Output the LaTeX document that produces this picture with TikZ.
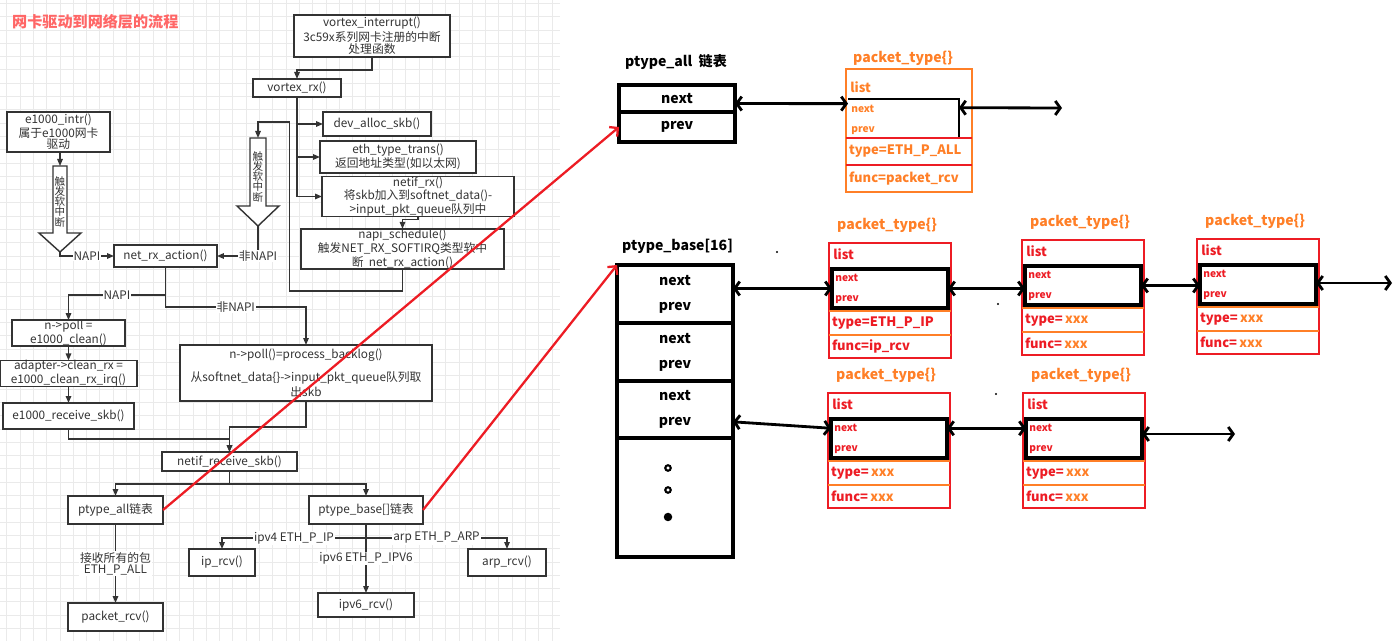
\documentclass[tikz,border=0pt]{standalone}
\usepackage{fontspec}
\setmainfont{Noto Sans CJK SC}
\usetikzlibrary{arrows.meta,positioning}
\definecolor{lineg}{HTML}{333333}
\definecolor{gridg}{HTML}{EAEAEA}
\definecolor{pred}{HTML}{ED1C24}
\definecolor{porange}{HTML}{FF7F27}
\definecolor{ttl}{HTML}{FF6666}

\begin{document}
\begin{tikzpicture}[x=0.02cm,y=-0.02cm,
  fbox/.style={draw=lineg,line width=0.8pt,fill=white,inner sep=0,outer sep=0,align=center,text=lineg,font=\fontsize{6.7}{6.2}\selectfont},
  flow/.style={draw=lineg,line width=0.8pt,-{Triangle[length=0.14cm,width=0.11cm]}},
  lbl/.style={fill=white,inner sep=0.6pt,align=center,text=lineg,font=\fontsize{6.7}{6.2}\selectfont},
  vtxt/.style={inner sep=0,align=center,text=lineg,font=\fontsize{6}{5.7}\selectfont},
  cell/.style={draw,line width=2.3pt,minimum width=2.32cm,inner sep=0,outer sep=0,align=center,font=\bfseries\fontsize{8}{14.2}\selectfont},
  btitle/.style={anchor=west,font=\bfseries\fontsize{8}{10}\selectfont},
  ptlbl/.style={anchor=west,text=porange,font=\bfseries\fontsize{8}{10}\selectfont},
  pbox/.style={draw=pred,line width=1.6pt,minimum width=2.44cm,minimum height=2.3cm,inner sep=0,outer sep=0},
  inbox/.style={draw,line width=2.2pt,minimum width=2.32cm,minimum height=0.78cm,inner sep=0,outer sep=0},
  ftxt/.style={anchor=west,inner sep=0,text=pred,font=\bfseries\fontsize{7.4}{9}\selectfont},
  stxt/.style={anchor=west,inner sep=0,align=left,text=pred,font=\bfseries\fontsize{5.8}{11.3}\selectfont},
  row/.style={minimum width=2.44cm,text width=2.32cm,minimum height=0.48cm,inner xsep=0.06cm,inner ysep=0,outer sep=0,align=left,text=pred,font=\bfseries\fontsize{7.4}{9}\selectfont},
  sepline/.style={draw=porange,line width=1.5pt},
  dlink/.style={{Straight Barb[length=0.1cm,width=0.28cm]}-{Straight Barb[length=0.1cm,width=0.28cm]},line width=1.6pt},
  redarr/.style={draw=pred,line width=1.3pt,-{Straight Barb[length=0.12cm,width=0.25cm]}}]

  \fill[white] (0,0) rectangle (1397,641);
  \useasboundingbox (0,0) rectangle (1397,641);
  \foreach \gx in {6.7,20,...,560} \draw[gridg,line width=0.4pt] (\gx,0) -- (\gx,641);
  \foreach \gy in {3.3,16.6,...,641} \draw[gridg,line width=0.4pt] (0,\gy) -- (560,\gy);

  \node[anchor=west,text=ttl,font=\bfseries\fontsize{8.6}{10}\selectfont] (title) at (6,22) {网卡驱动到网络层的流程};

  \node[fbox] (vint) [minimum width=3.12cm,minimum height=0.84cm] at (372,36) {vortex\_interrupt()\\3c59x系列网卡注册的中断\\处理函数};
  \node[fbox] (vrx) [minimum width=1.76cm,minimum height=0.36cm] at (297,88) {vortex\_rx()};
  \node[fbox] (dalloc) [minimum width=2.16cm,minimum height=0.48cm] at (377,124) {dev\_alloc\_skb()};
  \node[fbox] (ethtt) [minimum width=3.12cm,minimum height=0.64cm] at (398,157) {eth\_type\_trans()\\返回地址类型(如以太网)};
  \node[fbox] (nrx) [minimum width=3.84cm,minimum height=0.74cm] at (418,196.5) {netif\_rx()\\将skb加入到softnet\_data()-\\>input\_pkt\_queue队列中};
  \node[fbox] (napi) [minimum width=4.06cm,minimum height=0.64cm] at (402.5,249) {napi\_schedule()\\触发NET\_RX\_SOFTIRQ类型软中\\断\ \ net\_rx\_action()};
  \node[fbox] (eintr) [minimum width=2.06cm,minimum height=0.8cm] at (58.5,132) {e1000\_intr()\\属于e1000网卡\\驱动};
  \node[fbox] (nra) [minimum width=2.06cm,minimum height=0.44cm] at (165.5,256) {net\_rx\_action()};
  \node[fbox] (npoll) [minimum width=2.26cm,minimum height=0.48cm] at (68.5,333) {n->poll =\\e1000\_clean()};
  \node[fbox] (adapter) [minimum width=2.74cm,minimum height=0.46cm] at (68.5,373.5) {adapter->clean\_rx =\\e1000\_clean\_rx\_irq()};
  \node[fbox] (erecv) [minimum width=2.62cm,minimum height=0.52cm] at (68.5,416) {e1000\_receive\_skb()};
  \node[fbox] (pback) [minimum width=5.04cm,minimum height=1.12cm] at (306,373) {n->poll()=process\_backlog()\\[5pt]从softnet\_data\{\}->input\_pkt\_queue队列取\\出skb};
  \node[fbox] (nrs) [minimum width=2.7cm,minimum height=0.38cm] at (229.5,461.5) {netif\_receive\_skb()};
  \node[fbox] (pall) [minimum width=1.9cm,minimum height=0.56cm] at (115.5,510) {ptype\_all链表};
  \node[fbox] (pbase) [minimum width=2.28cm,minimum height=0.56cm] at (366,510) {ptype\_base[]链表};
  \node[fbox] (prcv) [minimum width=1.9cm,minimum height=0.56cm] at (115.5,617) {packet\_rcv()};
  \node[fbox] (iprcv) [minimum width=1.32cm,minimum height=0.54cm] at (222,562.5) {ip\_rcv()};
  \node[fbox] (v6rcv) [minimum width=1.92cm,minimum height=0.48cm] at (366,605) {ipv6\_rcv()};
  \node[fbox] (arprcv) [minimum width=1.56cm,minimum height=0.54cm] at (507,562.5) {arp\_rcv()};

  \coordinate (ltop) at (60,166);
  \coordinate (ltip) at (60,252);
  \coordinate (rtop) at (258,138);
  \coordinate (rtip) at (258,226);
  \draw[lineg,line width=0.8pt,fill=white] (53,166) -- (67,166) -- (67,233) -- (81,233) -- (ltip) -- (39,233) -- (53,233) -- cycle;
  \draw[lineg,line width=0.8pt,fill=white] (250,138) -- (266,138) -- (266,206) -- (279,206) -- (rtip) -- (237,206) -- (250,206) -- cycle;
  \node[vtxt] (lsirq) at (60,202) {触\\发\\软\\中\\断};
  \node[vtxt] (rsirq) at (258,177) {触\\发\\软\\中\\断};

  \draw[flow] (vint.south) -- ++(0,13) -| (vrx.north);
  \draw[flow] (vrx.south) |- (dalloc.west);
  \draw[flow] (vrx.south) |- (ethtt.west);
  \draw[flow] (vrx.south) |- (nrx.west);
  \draw[flow] (nrx.south) -- ++(0,3) -| (napi.north);
  \draw[flow] (napi.south) -- ++(0,22) -- ++(-113,0) -- ++(0,-169) -| (rtop);
  \draw[flow] (eintr.south -| ltop) -- (ltop);
  \draw[flow] (rtip) |- node[lbl] {非NAPI} (nra.east);
  \draw[flow] (ltip) |- node[lbl,pos=0.75] {NAPI} (nra.west);
  \draw[flow] (nra.south) -- ++(0,28) -| node[lbl,pos=0.25] {NAPI} (npoll.north);
  \draw[flow] (nra.south) -- ++(0,40) -| node[lbl,pos=0.25] {非NAPI} (pback.north);
  \draw[flow] (npoll.south) -- (adapter.north);
  \draw[flow] (adapter.south) -- (erecv.north);
  \draw[flow] (erecv.south) -- ++(0,10) -| (nrs.north);
  \draw[flow] (pback.south) -- ++(0,26) -| (nrs.north);
  \draw[flow] (nrs.south) -- ++(0,13) -| (pall.north);
  \draw[flow] (nrs.south) -- ++(0,13) -| (pbase.north);
  \draw[flow] (pall) -- node[lbl] {接收所有的包\\ETH\_P\_ALL} (prcv);
  \draw[flow] (pbase.south) -- node[lbl] {ipv6 ETH\_P\_IPV6} (v6rcv.north);
  \draw[flow] (pbase.south) -- ++(0,14) -| node[lbl,pos=0.25] {ipv4 ETH\_P\_IP} (iprcv.north);
  \draw[flow] (pbase.south) -- ++(0,14) -| node[lbl,pos=0.25] {arp ETH\_P\_ARP} (arprcv.north);

  \node[btitle] (alltitle) at (619,62) {ptype\_all\ \ 链表};
  \node[cell] (allnext) [minimum height=0.54cm] at (677,98.5) {next};
  \node[cell] (allprev) [minimum height=0.6cm] at (677,127) {prev};

  \node[btitle] (basetitle) at (616,246) {ptype\_base[16]};
  \node[cell] (b1) [minimum height=1.16cm] at (675,294) {next\\prev};
  \node[cell] (b2) [minimum height=1.16cm] at (675,352) {next\\prev};
  \node[cell] (b3) [minimum height=1.14cm] at (675,409.5) {next\\prev};
  \node[cell] (b4) [minimum height=2.38cm] at (675,497.5) {};
  \node[circle,draw,line width=1.2pt,inner sep=0,minimum size=0.11cm] (dot1) at (668,468) {};
  \node[circle,draw,line width=1.2pt,inner sep=0,minimum size=0.11cm] (dot2) at (668,490) {};
  \node[circle,fill,inner sep=0,minimum size=0.17cm] (dot3) at (668,517) {};

  \node[ptlbl] (tall) at (847,58) {packet\_type\{\}};
  \node[draw=porange,line width=1.6pt,minimum width=2.52cm,minimum height=2.46cm,inner sep=0,outer sep=0] (ball) at (909,130.5) {};
  \node[ftxt,text=porange] (lall) at (850,87) {list};
  \node[inner sep=0,outer sep=0,minimum width=2.22cm,minimum height=0.78cm] (ainner) at (903.5,118.5) {};
  \draw[line width=0.6pt] (ainner.north west) -- (ainner.north east) -- (ainner.south east);
  \node[stxt,text=porange] (nall) at (851,120) {next\\prev};
  \node[row,text=porange] (yall) [minimum width=2.52cm,text width=2.4cm,minimum height=0.54cm] at (909,151.5) {type=ETH\_P\_ALL};
  \node[row,text=porange] (fall) [minimum width=2.52cm,text width=2.4cm,minimum height=0.54cm] at (909,178.5) {func=packet\_rcv};
  \draw[pred,line width=1.5pt] (yall.north west) -- (yall.north east) (yall.south west) -- (yall.south east);

  \node[ptlbl] (tA) at (831,225) {packet\_type\{\}};
  \node[pbox] (bA) at (890,300.5) {};
  \node[ftxt] (lA) at (833,254) {list};
  \node[inbox] (iA) at (890,288.5) {};
  \node[stxt] (nA) at (835,288.5) {next\\prev};
  \node[row] (yA) at (890,323) {type=ETH\_P\_IP};
  \node[row] (fA) at (890,346.5) {func=ip\_rcv};
  \draw[sepline] (yA.north west) -- (yA.north east) (yA.south west) -- (yA.south east);

  \foreach \n/\X/\Y in {B/1022/240,C/1197/239,D/828/393,E/1023/393}{
    \node[ptlbl] (t\n) at (\X+2,\Y-18) {packet\_type\{\}};
    \node[pbox] (b\n) at (\X+61,\Y+57.5) {};
    \node[ftxt] (l\n) at (\X+4,\Y+11) {list};
    \node[inbox] (i\n) at (\X+61,\Y+45.5) {};
    \node[stxt] (n\n) at (\X+6,\Y+45.5) {next\\prev};
    \node[row] (y\n) at (\X+61,\Y+80) {type=\,\textcolor{porange}{xxx}};
    \node[row] (f\n) at (\X+61,\Y+103.5) {func=\,\textcolor{porange}{xxx}};
    \draw[sepline] (y\n.north west) -- (y\n.north east) (y\n.south west) -- (y\n.south east);
  }

  \coordinate (allend) at (1062,108);
  \coordinate (cend) at (1392,283);
  \coordinate (eend) at (1235,434);
  \draw[dlink] (allnext.-5) -- (ainner.165);
  \draw[dlink] (ainner.11) -- (allend);
  \draw[dlink] (b1.east |- iA.west) -- (iA.west);
  \draw[dlink] (iA.east) -- (iA.east -| iB.west);
  \draw[dlink] (iB.east) -- (iB.east -| iC.west);
  \draw[dlink] (iC.east |- cend) -- (cend);
  \draw[dlink] (b3.-12) -- (iD.170);
  \draw[dlink] (iD.10) -- (iE.170);
  \draw[dlink] (iE.east |- eend) -- (eend);

  \draw[redarr] (pall.east) -- (allprev.west);
  \draw[redarr] (pbase.east) -- (b1.north west);

  \fill (777,252) circle (0.6pt);
  \fill (998,304) circle (0.6pt);
  \fill (996,394) circle (0.6pt);

\end{tikzpicture}
\end{document}
